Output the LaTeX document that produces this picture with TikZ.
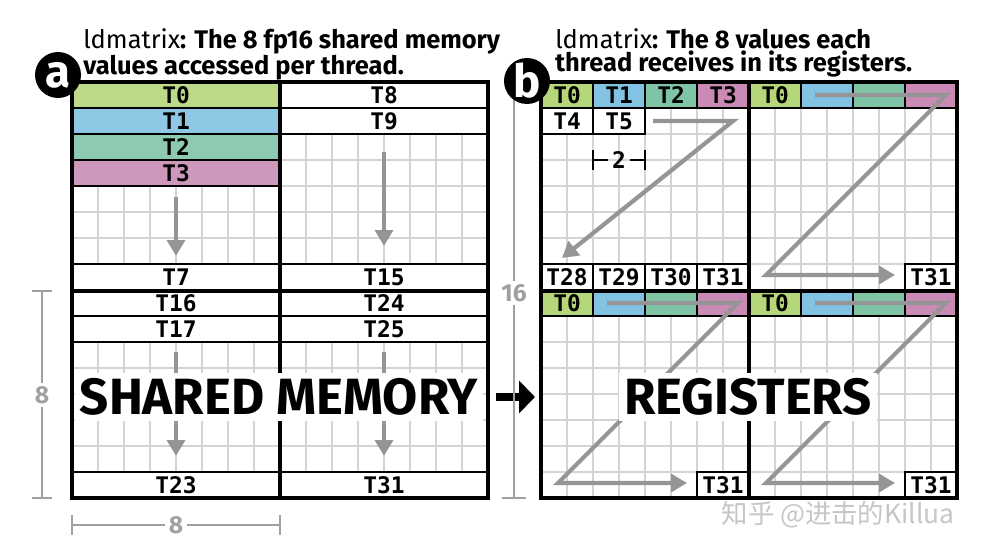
\documentclass[tikz,border=0pt]{standalone}
\usepackage{fontspec}
\setmainfont{Fira Sans}
\newfontfamily\monob{DejaVu Sans Mono}
\newfontfamily\cjk{Noto Sans CJK SC}
\usetikzlibrary{arrows.meta}
\definecolor{cgreen}{HTML}{B5D67A}
\definecolor{cblue}{HTML}{82C2E2}
\definecolor{cteal}{HTML}{80C4A8}
\definecolor{cpink}{HTML}{C98BB5}
\definecolor{gridc}{HTML}{D4D4D4}
\definecolor{arrc}{HTML}{959595}
\definecolor{dimc}{HTML}{A0A0A0}
\tikzset{
 rbox/.style={draw=black,line width=1.4pt,inner sep=0pt,minimum height=0.52cm,font=\monob\bfseries\fontsize{13}{13}\selectfont},
 zarrow/.style={draw=arrc,line width=2.4pt,-{Triangle[length=9pt,width=10pt]}},
 thickb/.style={line width=2.8pt},
 midb/.style={line width=2.3pt},
 bigtxt/.style={fill=white,inner sep=3pt,font=\bfseries\fontsize{29}{29}\selectfont},
 dimline/.style={draw=dimc,line width=1.6pt},
 dimlab/.style={text=dimc,fill=white,inner sep=2pt,font=\bfseries\fontsize{14}{14}\selectfont},
 title/.style={anchor=north west,align=left,inner sep=0pt,font=\fontsize{14.5}{13}\selectfont},
 badge/.style={circle,fill=black,text=white,minimum size=0.92cm,inner sep=0pt,font=\bfseries\fontsize{26}{26}\selectfont}
}
% #1 panel x0, #2 col, #3 row, #4 ncols, #5 fill, #6 label, #7 name
\newcommand\rb[7]{\node[rbox,fill=#5,minimum width=#4*0.52cm] (#7) at ({#1+(#2+#4/2)*26},{82+(#3+0.5)*26}) {#6};}
\begin{document}
\begin{tikzpicture}[x=0.02cm,y=-0.02cm]
\useasboundingbox[fill=white] (0,0) rectangle (997,554);
% grids
\foreach \px in {72,541}{
 \foreach \i in {1,...,15}{
  \draw[gridc,line width=1.3pt] ({\px+\i*26},82) -- ({\px+\i*26},498);
  \draw[gridc,line width=1.3pt] (\px,{82+\i*26}) -- ({\px+416},{82+\i*26});
 }}
% panel a rows
\rb{72}{0}{0}{8}{cgreen!90}{T0}{a0}
\rb{72}{0}{1}{8}{cblue!90}{T1}{a1}
\rb{72}{0}{2}{8}{cteal!90}{T2}{a2}
\rb{72}{0}{3}{8}{cpink!90}{T3}{a3}
\rb{72}{0}{7}{8}{white}{T7}{a7}
\rb{72}{8}{0}{8}{white}{T8}{a8}
\rb{72}{8}{1}{8}{white}{T9}{a9}
\rb{72}{8}{7}{8}{white}{T15}{a15}
\rb{72}{0}{8}{8}{white}{T16}{a16}
\rb{72}{0}{9}{8}{white}{T17}{a17}
\rb{72}{0}{15}{8}{white}{T23}{a23}
\rb{72}{8}{8}{8}{white}{T24}{a24}
\rb{72}{8}{9}{8}{white}{T25}{a25}
\rb{72}{8}{15}{8}{white}{T31}{a31}
% arrows a
\coordinate (p1) at (176,197); \coordinate (p2) at (176,256);
\coordinate (p3) at (384,152); \coordinate (p4) at (384,246);
\coordinate (p5) at (176,352); \coordinate (p6) at (176,456);
\coordinate (p7) at (384,352); \coordinate (p8) at (384,456);
\draw[zarrow] (p1) -- (p2); \draw[zarrow] (p3) -- (p4);
\draw[zarrow] (p5) -- (p6); \draw[zarrow] (p7) -- (p8);
% panel b rows
\rb{541}{0}{0}{2}{cgreen}{T0}{b0}
\rb{541}{2}{0}{2}{cblue}{T1}{b1}
\rb{541}{4}{0}{2}{cteal}{T2}{b2}
\rb{541}{6}{0}{2}{cpink}{T3}{b3}
\rb{541}{0}{1}{2}{white}{T4}{b4}
\rb{541}{2}{1}{2}{white}{T5}{b5}
\rb{541}{0}{7}{2}{white}{T28}{b28}
\rb{541}{2}{7}{2}{white}{T29}{b29}
\rb{541}{4}{7}{2}{white}{T30}{b30}
\rb{541}{6}{7}{2}{white}{T31}{b31}
\foreach \c/\r/\n in {8/0/q1,0/8/q2,8/8/q3}{
 \rb{541}{\c}{\r}{2}{cgreen}{T0}{\n g}
 \rb{541}{\c+2}{\r}{2}{cblue}{}{\n b}
 \rb{541}{\c+4}{\r}{2}{cteal}{}{\n t}
 \rb{541}{\c+6}{\r}{2}{cpink}{}{\n p}
 \rb{541}{\c+6}{\r+7}{2}{white}{T31}{\n e}
}
% 2 dimension
\coordinate (d1) at (593,160); \coordinate (d2) at (645,160);
\node[font=\monob\bfseries\fontsize{13}{13}\selectfont,inner sep=2pt] (two) at (619,160) {2};
\draw[line width=1.1pt] (593,150) -- (593,170) (645,150) -- (645,170);
\draw[line width=1.1pt] (d1) -- (two.west) (two.east) -- (d2);
% Z arrows b
\coordinate (z1) at (653,121); \coordinate (z2) at (733,121); \coordinate (z3) at (562,258);
\draw[zarrow,line join=miter] (z1) -- (z2) -- (z3);
\foreach \dx/\dy in {0/0,0/208,-208/208}{
 \coordinate (s\dx\dy) at ({815+\dx},{95+\dy});
 \coordinate (t\dx\dy) at ({946+\dx},{95+\dy});
 \coordinate (u\dx\dy) at ({766+\dx},{275+\dy});
 \coordinate (v\dx\dy) at ({895+\dx},{275+\dy});
 \draw[zarrow,line join=miter] (s\dx\dy) -- (t\dx\dy) -- (u\dx\dy) -- (v\dx\dy);
}
% borders
\draw[midb] (280,82) -- (280,498); \draw[midb] (72,291) -- (488,291);
\draw[midb] (749,82) -- (749,498); \draw[midb] (541,291) -- (957,291);
\draw[thickb] (72,82) rectangle (488,498);
\draw[thickb] (541,82) rectangle (957,498);
% big labels
\node[bigtxt] (sm) at (279,397) {SHARED MEMORY};
\node[bigtxt] (rg) at (748,397) {REGISTERS};
% transfer arrow
\coordinate (ta) at (496,397); \coordinate (tb) at (535,397);
\draw[line width=5pt,-{Triangle[length=9pt,width=18pt]}] (ta) -- (tb);
% dimensions
\draw[dimline] (42,291) -- (42,498) (32,291) -- (52,291) (32,498) -- (52,498);
\node[dimlab] (d8a) at (42,395) {8};
\draw[dimline] (72,525) -- (280,525) (72,515) -- (72,535) (280,515) -- (280,535);
\node[dimlab] (d8b) at (176,525) {8};
\draw[dimline] (514,82) -- (514,498) (502,498) -- (526,498);
\node[dimlab] (d16) at (514,293) {16};
% titles
\node[title] (ta1) at (83,28) {ldmatrix\textbf{: The 8 fp16 shared memory}\\\textbf{values accessed per thread.}};
\node[title] (tb1) at (555,28) {ldmatrix\textbf{: The 8 values each}\\\textbf{thread receives in its registers.}};
\node[badge] (ba) at (58,75) {a};
\node[badge] (bb) at (527,81) {b};
% watermark
\node[text=gray!45,font=\cjk\fontsize{15}{15}\selectfont] (wm) at (838,515) {知乎 @进击的Killua};
\end{tikzpicture}
\end{document}
